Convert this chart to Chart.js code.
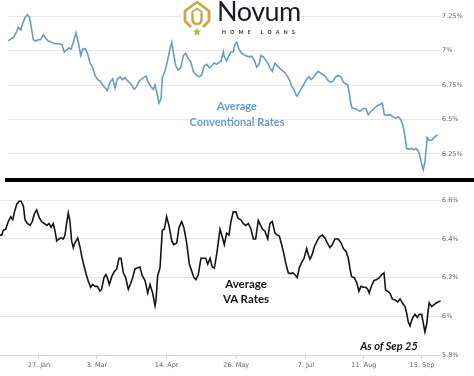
<!DOCTYPE html>
<html>
<head>
<meta charset="utf-8">
<script src="https://cdn.jsdelivr.net/npm/chart.js@4.4.1/dist/chart.umd.min.js"></script>
<style>
  html, body { margin: 0; padding: 0; background: #fff; }
  #wrap { position: relative; width: 474px; height: 376px; overflow: hidden; font-family: Lato, "Open Sans", sans-serif; }
  #topChart { position: absolute; left: 8px; top: 0; }
  #bottomChart { position: absolute; left: 0; top: 183px; }
  #divider { position: absolute; left: 5px; top: 178px; width: 469px; height: 4px; background: #000; }
  .note { position: absolute; white-space: nowrap; text-align: center; transform: translateX(-50%); }
  #convNote { left: 237px; top: 98px; font-size: 11px; line-height: 16px; font-weight: bold; color: #6b9bc4; }
  #vaNote { left: 246px; top: 276px; font-size: 11.5px; line-height: 15px; font-weight: bold; color: #151515; }
  #asOf { left: 389px; top: 339px; font-size: 11px; line-height: 14px; font-weight: bold; font-style: italic; color: #151515; }
  #logo { position: absolute; left: 181px; top: 0; width: 120px; height: 38px; background: #fff; }
  #logo svg { position: absolute; left: 2px; top: 0; }
  #brand { position: absolute; left: 36px; top: -3px; font-size: 27px; line-height: 28px; color: #1b1b28; letter-spacing: -0.5px; }
  #sub { position: absolute; left: 41px; top: 29px; font-size: 5px; line-height: 6px; font-weight: bold; color: #1b1b28; letter-spacing: 4.4px; }
</style>
</head>
<body>
<div id="wrap">
  <canvas id="topChart" width="466" height="178"></canvas>
  <div id="divider"></div>
  <canvas id="bottomChart" width="474" height="193"></canvas>
  <div id="convNote" class="note">Average<br>Conventional Rates</div>
  <div id="vaNote" class="note">Average<br>VA Rates</div>
  <div id="asOf" class="note">As of Sep 25</div>
  <div id="logo">
    <svg width="30" height="38" viewBox="0 0 30 38">
      <path d="M8 27 L2 21 L2 11 L14 2 L26 11 L26 21 L20 27" fill="none" stroke="#c9a646" stroke-width="2.8" stroke-linejoin="round"/>
      <path d="M9.5 13 L9.5 19 Q9.5 24 14 24 Q18.5 24 18.5 19 L18.5 13" fill="none" stroke="#c9a646" stroke-width="2.4"/>
      <path d="M8.5 12.5 L14 8.5 L19.5 12.5" fill="none" stroke="#c9a646" stroke-width="1.8"/>
      <polygon points="14,27.5 15.12,30.46 18.28,30.61 15.81,32.59 16.65,35.64 14,33.9 11.35,35.64 12.19,32.59 9.72,30.61 12.88,30.46" fill="#c9a646"/>
    </svg>
    <div id="brand">Novum</div>
    <div id="sub">HOME LOANS</div>
  </div>
</div>
<script>
// day of year 2025 (Jan 1 = 1)
const tickDays = [27, 62, 104, 146, 188, 223, 258];
const tickLabels = ['27. Jan', '3. Mar', '14. Apr', '26. May', '7. Jul', '11. Aug', '15. Sep'];

const convTicks = [6.25, 6.5, 6.75, 7, 7.25];
const convTickLabels = ['6.25%', '6.5%', '6.75%', '7%', '7.25%'];
const vaTicks = [5.8, 6, 6.2, 6.4, 6.6];
const vaTickLabels = ['5.8%', '6%', '6.2%', '6.4%', '6.6%'];

// Average conventional rates
const convDays = [8.5, 10.6, 11.9, 13.6, 14.5, 16.0, 17.2, 18.6, 20.0, 21.2, 22.2, 23.6, 25.2, 26.6, 28.0, 29.6, 31.1, 32.6, 34.7, 36.7,
  38.7, 40.7, 42.3, 43.7, 45.1, 46.3, 47.7, 49.3, 50.7, 52.2, 53.4, 54.8, 56.2, 57.8, 59.4, 60.8, 62.4, 63.8, 65.4, 66.8,
  68.2, 69.8, 71.5, 72.9, 74.2, 75.9, 77.3, 78.9, 80.5, 82.3, 84.3, 85.9, 87.5, 89.6, 91.6, 92.9, 94.4, 96.0, 97.0, 98.0,
  99.4, 100.6, 101.4, 103.0, 104.4, 106.0, 107.1, 108.0, 109.5, 111.0, 112.5, 114.1, 115.5, 117.1, 118.5, 120.1, 121.7, 123.5, 125.2, 126.7,
  128.2, 129.7, 131.2, 132.6, 134.2, 135.6, 136.8, 138.2, 138.8, 140.2, 141.2, 142.8, 144.2, 145.2, 146.3, 147.6, 149.3, 150.8, 152.3, 153.9,
  155.3, 156.9, 158.3, 159.7, 160.9, 162.3, 163.8, 165.0, 166.3, 167.7, 169.4, 170.7, 172.4, 173.8, 175.4, 177.0, 178.4, 179.4, 180.8, 182.0,
  182.8, 184.0, 185.5, 187.0, 188.5, 189.9, 191.1, 192.5, 193.9, 195.5, 197.1, 198.5, 199.9, 201.5, 203.1, 204.5, 206.0, 207.5, 209.2, 210.6,
  212.0, 213.2, 214.2, 215.2, 216.0, 217.6, 219.2, 220.6, 222.3, 224.1, 225.6, 227.3, 229.1, 231.1, 232.7, 234.1, 235.3, 236.7, 238.7, 240.4,
  242.2, 243.7, 245.2, 246.7, 247.8, 248.8, 250.2, 251.8, 253.2, 254.4, 255.8, 256.8, 257.8, 258.8, 259.8, 261.2, 262.4, 263.9, 265.4, 267.5];
const convRates = [7.07, 7.09, 7.10, 7.14, 7.17, 7.15, 7.20, 7.24, 7.26, 7.245, 7.18, 7.08, 7.07, 7.08, 7.08, 7.115, 7.09, 7.07, 7.06, 7.05,
  7.05, 7.045, 6.99, 7.005, 7.02, 7.01, 7.06, 7.13, 7.06, 6.965, 7.01, 7.015, 6.98, 6.91, 6.875, 6.82, 6.79, 6.78, 6.75, 6.73,
  6.71, 6.77, 6.795, 6.73, 6.795, 6.81, 6.79, 6.805, 6.78, 6.76, 6.72, 6.74, 6.78, 6.80, 6.815, 6.77, 6.74, 6.72, 6.75, 6.70,
  6.62, 6.65, 6.805, 6.85, 6.92, 7.01, 7.06, 6.99, 6.89, 6.86, 6.875, 6.965, 6.98, 6.94, 6.92, 6.85, 6.825, 6.81, 6.825, 6.89,
  6.90, 6.875, 6.89, 6.91, 6.90, 6.915, 6.925, 6.99, 6.955, 6.925, 6.955, 6.99, 6.99, 7.045, 7.06, 7.01, 6.98, 6.97, 6.96, 6.955,
  6.96, 6.93, 6.88, 6.90, 6.965, 6.955, 6.93, 6.91, 6.875, 6.85, 6.91, 6.89, 6.87, 6.855, 6.84, 6.81, 6.78, 6.74, 6.72, 6.68,
  6.67, 6.70, 6.73, 6.76, 6.795, 6.81, 6.79, 6.805, 6.83, 6.85, 6.835, 6.825, 6.81, 6.78, 6.77, 6.78, 6.81, 6.82, 6.81, 6.77,
  6.76, 6.75, 6.69, 6.61, 6.58, 6.58, 6.57, 6.56, 6.58, 6.58, 6.535, 6.56, 6.58, 6.60, 6.61, 6.62, 6.535, 6.53, 6.535, 6.52,
  6.51, 6.52, 6.50, 6.45, 6.37, 6.29, 6.285, 6.29, 6.28, 6.29, 6.27, 6.235, 6.18, 6.135, 6.19, 6.37, 6.35, 6.35, 6.37, 6.39];

// Average VA rates
const vaDays = [3.5, 4.5, 5.5, 6.9, 8.5, 10.0, 11.2, 12.1, 13.6, 15.0, 16.2, 17.6, 18.6, 20.0, 21.6, 23.0, 24.2, 25.6, 27.2, 28.6,
  30.2, 31.7, 33.1, 34.3, 35.6, 36.7, 37.7, 39.1, 40.3, 41.7, 42.7, 43.7, 44.7, 45.7, 46.7, 47.7, 48.7, 50.4, 51.7, 52.8,
  54.2, 55.4, 56.8, 58.2, 59.4, 60.8, 62.2, 63.8, 64.8, 66.2, 67.4, 68.2, 69.4, 70.9, 72.3, 73.9, 75.3, 76.5, 77.9, 79.3,
  80.9, 82.3, 83.5, 84.9, 86.3, 87.9, 89.3, 91.0, 92.6, 94.0, 95.6, 97.0, 97.6, 98.6, 100.0, 101.4, 102.6, 104.0, 105.4, 107.1,
  108.4, 110.1, 111.5, 113.1, 114.5, 116.1, 117.7, 119.1, 120.5, 121.7, 123.1, 124.7, 126.1, 127.6, 128.8, 130.2, 131.5, 132.8, 134.2, 136.2,
  137.6, 138.8, 140.2, 141.6, 142.8, 144.2, 145.8, 147.2, 148.7, 150.2, 151.7, 153.3, 154.9, 156.3, 157.7, 159.3, 160.7, 161.9, 163.3, 165.0,
  166.3, 167.7, 169.4, 170.7, 172.0, 173.4, 174.8, 176.0, 177.4, 178.8, 180.0, 181.4, 182.8, 184.0, 185.5, 186.9, 188.5, 189.4, 190.5, 191.8,
  193.1, 194.5, 196.1, 197.9, 199.5, 200.9, 202.5, 203.9, 205.5, 207.5, 209.2, 210.6, 212.2, 213.6, 214.6, 215.6, 217.2, 218.6, 220.0, 221.2,
  222.6, 224.1, 225.3, 226.2, 227.7, 229.1, 230.7, 232.3, 233.7, 235.1, 236.1, 237.3, 238.7, 240.1, 241.7, 243.4, 244.8, 246.1, 247.8, 248.8,
  249.8, 250.8, 252.2, 253.8, 255.2, 256.4, 257.8, 258.8, 259.8, 260.9, 261.8, 262.4, 263.9, 265.3, 266.9, 269.3];
const vaRates = [6.42, 6.42, 6.445, 6.45, 6.49, 6.515, 6.50, 6.535, 6.58, 6.595, 6.595, 6.57, 6.50, 6.48, 6.47, 6.49, 6.53, 6.55, 6.51, 6.49,
  6.48, 6.47, 6.48, 6.46, 6.48, 6.44, 6.39, 6.40, 6.405, 6.40, 6.42, 6.48, 6.535, 6.49, 6.39, 6.355, 6.38, 6.405, 6.36, 6.31,
  6.26, 6.22, 6.18, 6.15, 6.165, 6.155, 6.155, 6.13, 6.14, 6.20, 6.215, 6.20, 6.165, 6.205, 6.23, 6.245, 6.30, 6.30, 6.225, 6.20,
  6.14, 6.17, 6.20, 6.245, 6.25, 6.255, 6.21, 6.185, 6.12, 6.165, 6.12, 6.055, 6.085, 6.21, 6.25, 6.445, 6.45, 6.515, 6.47, 6.39,
  6.37, 6.38, 6.46, 6.49, 6.455, 6.38, 6.27, 6.235, 6.20, 6.19, 6.215, 6.30, 6.30, 6.30, 6.27, 6.30, 6.255, 6.25, 6.32, 6.45,
  6.41, 6.37, 6.43, 6.42, 6.49, 6.54, 6.54, 6.505, 6.50, 6.48, 6.47, 6.48, 6.45, 6.40, 6.40, 6.495, 6.47, 6.45, 6.44, 6.40,
  6.48, 6.49, 6.43, 6.42, 6.415, 6.37, 6.32, 6.27, 6.225, 6.22, 6.225, 6.215, 6.20, 6.25, 6.28, 6.30, 6.35, 6.32, 6.295, 6.32,
  6.36, 6.385, 6.41, 6.42, 6.405, 6.38, 6.355, 6.37, 6.40, 6.40, 6.38, 6.35, 6.335, 6.30, 6.245, 6.205, 6.20, 6.175, 6.13, 6.155,
  6.15, 6.15, 6.14, 6.12, 6.16, 6.185, 6.19, 6.20, 6.215, 6.225, 6.135, 6.13, 6.12, 6.09, 6.085, 6.075, 6.09, 6.07, 6.05, 6.015,
  5.97, 5.95, 5.99, 6.01, 5.995, 6.01, 6.01, 5.965, 5.92, 5.96, 6.035, 6.07, 6.05, 6.06, 6.07, 6.08];

const tickFont = { family: 'DejaVu Sans', size: 6.5 };
const pts = (xs, ys) => xs.map((d, i) => ({ x: d, y: ys[i] }));

new Chart(document.getElementById('topChart'), {
  type: 'line',
  data: {
    datasets: [{
      data: pts(convDays, convRates),
      borderColor: '#6b9bc4',
      borderWidth: 1.6,
      pointRadius: 0,
      tension: 0,
      fill: false
    }]
  },
  options: {
    responsive: false,
    animation: false,
    devicePixelRatio: 1,
    layout: { padding: 0 },
    plugins: { legend: { display: false }, tooltip: { enabled: false } },
    scales: {
      x: { type: 'linear', display: false, min: 8.3, max: 269.5 },
      y: {
        position: 'right',
        min: 6.111,
        max: 7.332,
        afterBuildTicks: s => { s.ticks = convTicks.map(v => ({ value: v })); },
        afterFit: s => { s.width = 33; },
        grid: { color: '#e6e6e6', drawTicks: false },
        border: { display: false },
        ticks: { padding: 1, color: '#666', font: tickFont, callback: (v, i) => convTickLabels[i] }
      }
    }
  }
});

new Chart(document.getElementById('bottomChart'), {
  type: 'line',
  data: {
    datasets: [{
      data: pts(vaDays, vaRates),
      borderColor: '#151515',
      borderWidth: 1.6,
      pointRadius: 0,
      tension: 0,
      fill: false
    }]
  },
  options: {
    responsive: false,
    animation: false,
    devicePixelRatio: 1,
    layout: { padding: 0 },
    plugins: { legend: { display: false }, tooltip: { enabled: false } },
    scales: {
      x: {
        type: 'linear',
        min: 3.5,
        max: 269.5,
        afterBuildTicks: s => { s.ticks = tickDays.map(v => ({ value: v })); },
        afterFit: s => { s.height = 21; },
        grid: { drawOnChartArea: false, drawTicks: true, tickLength: 4, color: '#ccd6eb' },
        border: { display: true, color: '#ccd6eb', width: 1 },
        ticks: { autoSkip: false, maxRotation: 0, padding: 2, color: '#666', font: tickFont,
          callback: (v, i) => tickLabels[i] }
      },
      y: {
        position: 'right',
        min: 5.8,
        max: 6.664,
        afterBuildTicks: s => { s.ticks = vaTicks.map(v => ({ value: v })); },
        afterFit: s => { s.width = 33; },
        grid: { color: '#e6e6e6', drawTicks: false },
        border: { display: false },
        ticks: { padding: 1, color: '#666', font: tickFont, callback: (v, i) => vaTickLabels[i] }
      }
    }
  }
});
</script>
</body>
</html>
